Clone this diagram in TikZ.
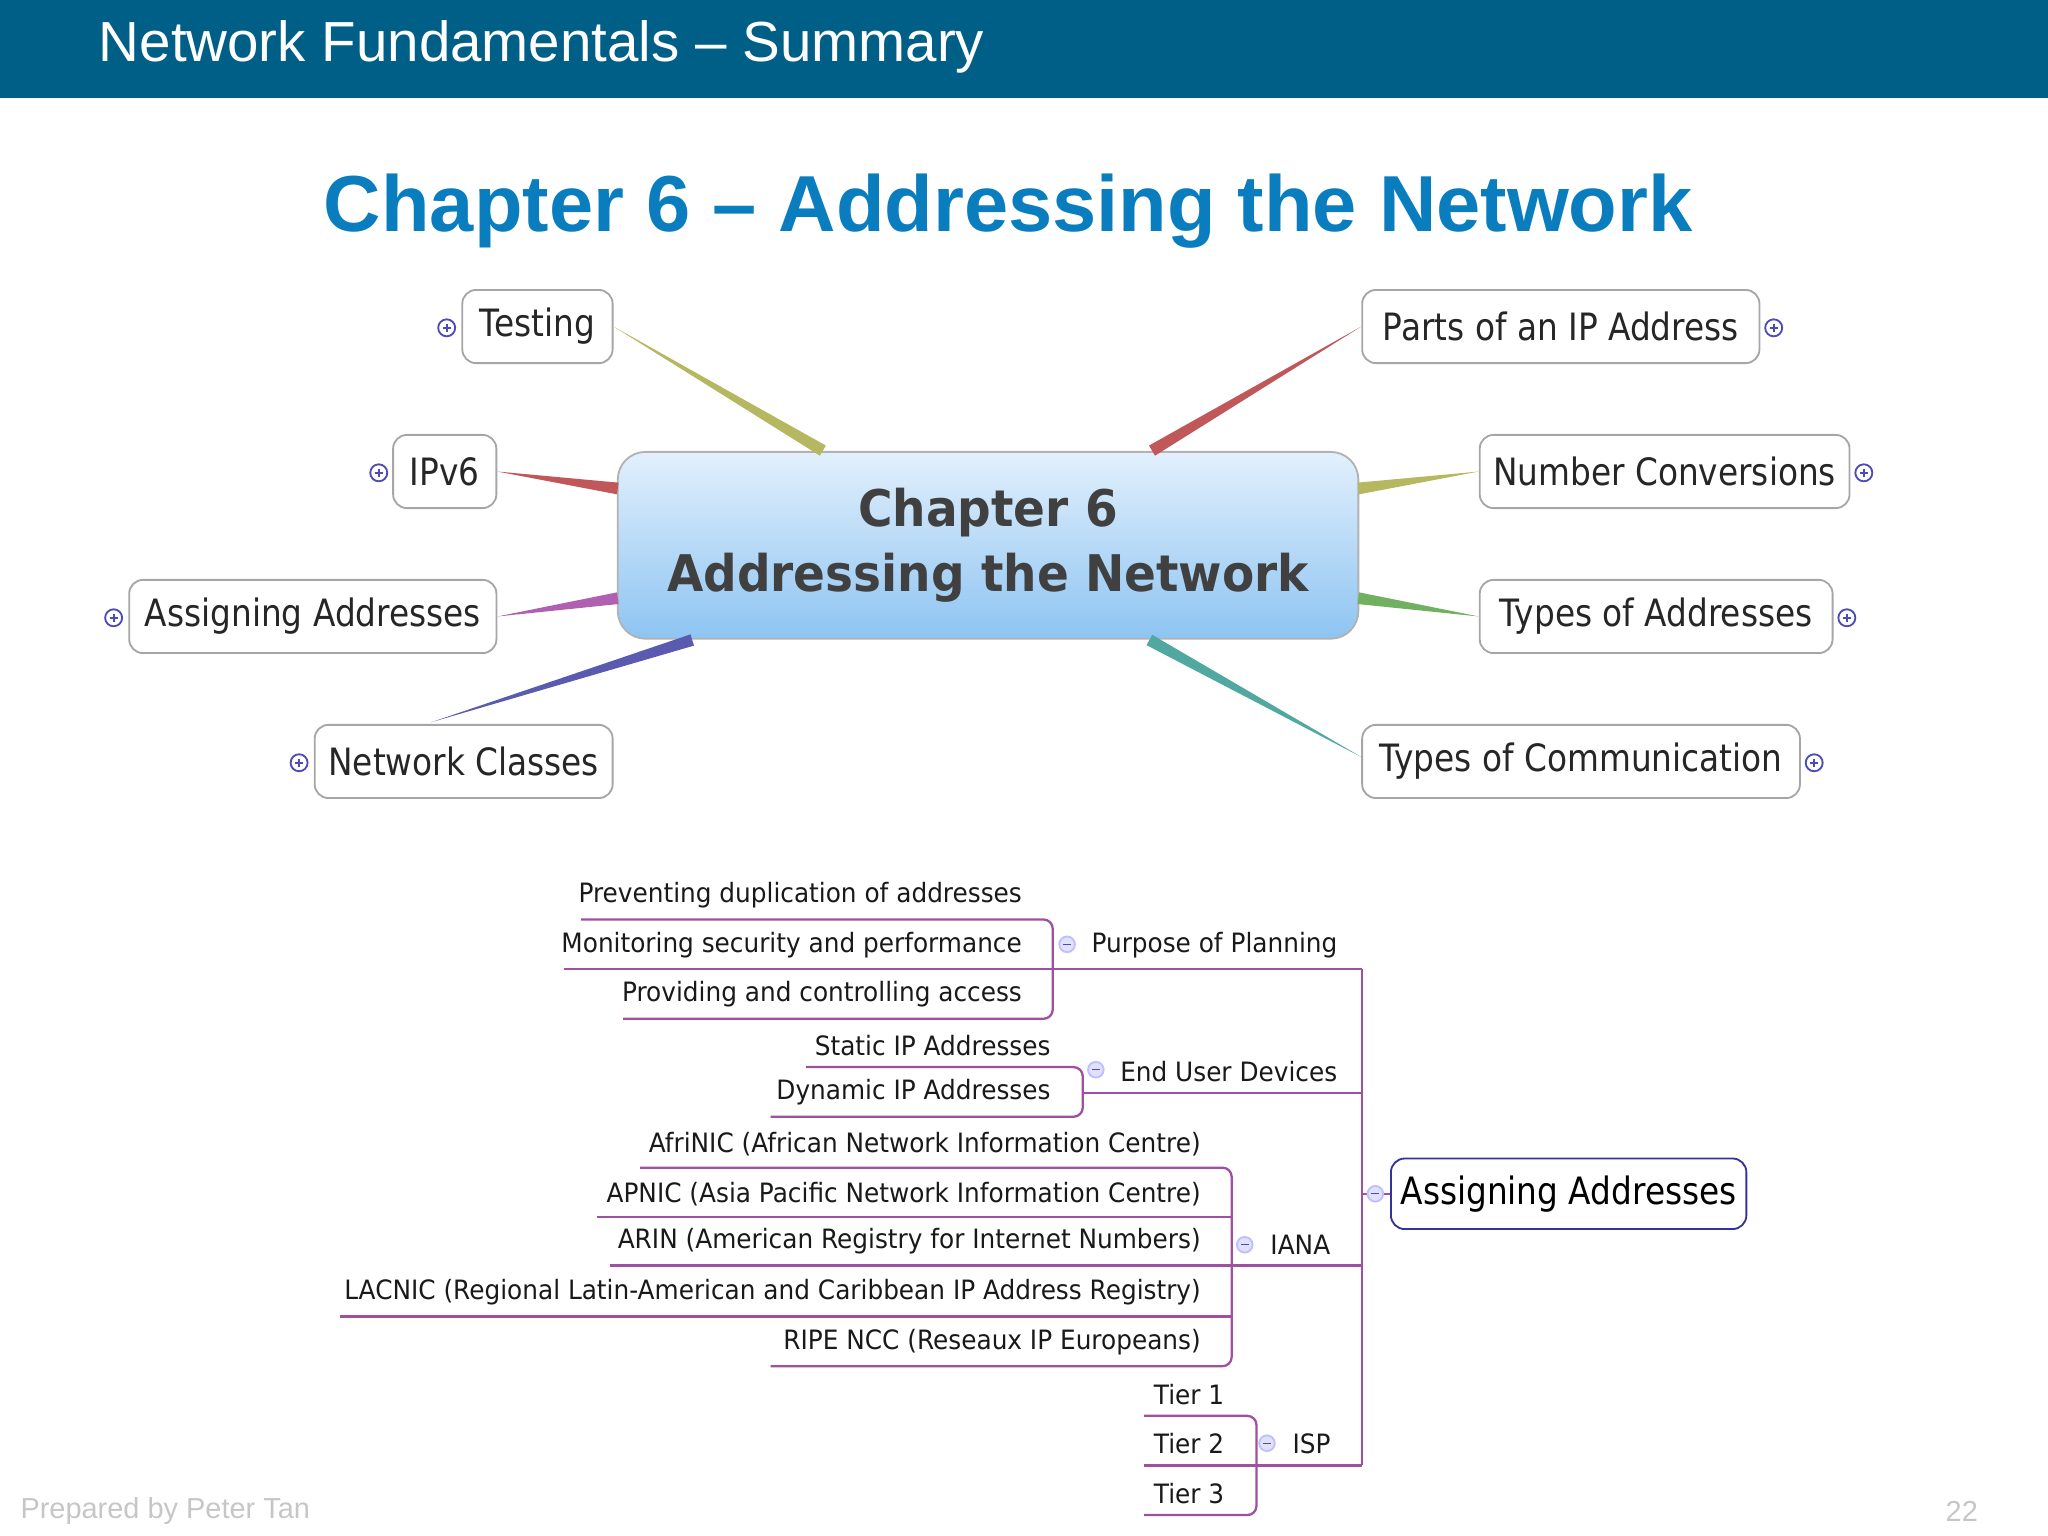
\documentclass[tikz,border=0pt]{standalone}
\usepackage{fontspec}
\setmainfont{Liberation Sans}
\newfontfamily\mmf{DejaVu Sans}[FakeStretch=0.87]
\newfontfamily\mms{DejaVu Sans}[FakeStretch=0.93]
\newfontfamily\mmb{DejaVu Sans Bold}[FakeStretch=0.93]
\usetikzlibrary{calc}
\definecolor{hdr}{HTML}{005F87}
\definecolor{ttl}{HTML}{0A7DBE}
\definecolor{ln}{HTML}{A050A0}
\definecolor{cOl}{HTML}{B5B860}
\definecolor{cRd}{HTML}{C0585A}
\definecolor{cPu}{HTML}{B060B0}
\definecolor{cGr}{HTML}{70B060}
\definecolor{cBl}{HTML}{5A5AB0}
\definecolor{cTe}{HTML}{50A8A0}
\definecolor{gtop}{HTML}{E2F0FC}
\definecolor{gbot}{HTML}{8EC4F2}
\tikzset{
 box/.style={draw=gray!70,rounded corners=3pt,fill=white,inner sep=0pt,font=\mmf\fontsize{8.2}{10}\selectfont,text=black!85},
 tl/.style={anchor=south east,inner sep=0pt,font=\mms\fontsize{5.8}{7}\selectfont,text=black!90},
 pl/.style={anchor=south west,inner sep=0pt,font=\mms\fontsize{5.8}{7}\selectfont,text=black!90},
 br/.style={ln,line width=0.5pt,rounded corners=2pt},
 mn/.style={circle,fill=blue!12,draw=blue!25,minimum size=0.12cm,inner sep=0pt},
 pls/.style={circle,fill=white,draw=blue!40!gray,minimum size=0.13cm,inner sep=0pt}
}
\newcommand{\taper}[3]{\fill[#3] ($(#2)!0.045cm!90:(#1)$) -- ($(#2)!0.045cm!-90:(#1)$) -- (#1) -- cycle;}
\newcommand{\plusat}[2]{\node[pls] (#1) at (#2) {}; \draw[blue!40!gray,line width=0.4pt] ($(#1)+(-3,0)$) -- ($(#1)+(3,0)$) ($(#1)+(0,-3)$) -- ($(#1)+(0,3)$);}
\newcommand{\minusat}[2]{\node[mn] (#1) at (#2) {}; \draw[blue!40!gray,line width=0.3pt] ($(#1)+(-3,0)$) -- ($(#1)+(3,0)$);}
\begin{document}
\begin{tikzpicture}[x=0.01cm,y=-0.01cm]
\useasboundingbox (0,0) rectangle (1568,1176);
\fill[hdr] (0,0) rectangle (1568,75);
\node[anchor=west,text=white,font=\fontsize{12.3}{14}\selectfont,inner sep=0] (hd) at (75,36) {Network Fundamentals – Summary};
\node[text=ttl,font=\bfseries\fontsize{17.3}{20}\selectfont,inner sep=0] (tt) at (772,162) {Chapter 6 – Addressing the Network};
% central
\node[draw=gray!60,rounded corners=6pt,top color=gtop,bottom color=gbot,minimum width=567*0.01cm,minimum height=143*0.01cm,align=center,font=\mmb\fontsize{11}{14}\selectfont,text=black!75] (c) at (756.5,417.5) {Chapter 6\\Addressing the Network};
% branches
\node[box,minimum width=1.15cm,minimum height=0.56cm] (te) at (411.5,250) {Testing};
\node[box,minimum width=3.04cm,minimum height=0.56cm] (pa) at (1195,250) {Parts of an IP Address};
\node[box,minimum width=0.79cm,minimum height=0.56cm] (ip) at (340.5,361) {IPv6};
\node[box,minimum width=2.83cm,minimum height=0.56cm] (nc) at (1274.5,361) {Number Conversions};
\node[box,minimum width=2.81cm,minimum height=0.56cm] (aa) at (239.5,472) {Assigning Addresses};
\node[box,minimum width=2.70cm,minimum height=0.56cm] (ta) at (1268,472) {Types of Addresses};
\node[box,minimum width=2.28cm,minimum height=0.56cm] (nw) at (355,583) {Network Classes};
\node[box,minimum width=3.35cm,minimum height=0.56cm] (tc) at (1210.5,583) {Types of Communication};
\plusat{p1}{342,251} \plusat{p2}{1358,251} \plusat{p3}{290,362} \plusat{p4}{1427,362}
\plusat{p5}{87,473} \plusat{p6}{1414,473} \plusat{p7}{229,584} \plusat{p8}{1389,584}
\coordinate (cte) at (630,345); \coordinate (cpa) at (882,345);
\coordinate (cip) at (473,374); \coordinate (cnc) at (1040,374);
\coordinate (caa) at (473,458); \coordinate (cta) at (1040,458);
\coordinate (cnw) at (530,490); \coordinate (ctc) at (880,490);
\taper{te.east}{cte}{cOl} \taper{pa.west}{cpa}{cRd}
\taper{ip.east}{cip}{cRd} \taper{nc.west}{cnc}{cOl}
\taper{aa.east}{caa}{cPu} \taper{ta.west}{cta}{cGr}
\coordinate (nwt) at (330,553); \taper{nwt}{cnw}{cBl}
\coordinate (tcl) at (1043,580); \taper{tcl}{ctc}{cTe}
% bottom tree
\node[draw=blue!50!black!80,rounded corners=3pt,inner sep=0,minimum width=2.72cm,minimum height=0.54cm,font=\mmf\fontsize{8.2}{10}\selectfont] (A) at (1201,914) {Assigning Addresses};
\draw[br] (1043,742) -- (1043,1122);
\draw[ln,line width=0.5pt] (1043,914) -- (A.west);
\minusat{mA}{1053,914}
% purpose
\draw[br] (432,742) -- (1043,742);
\draw[br] (445,704) -- (806,704) -- (806,780) -- (477,780);
\node[tl] (t1) at (783,696) {Preventing duplication of addresses};
\node[tl] (t2) at (783,734) {Monitoring security and performance};
\node[tl] (t3) at (783,772) {Providing and controlling access};
\node[pl] (pp) at (835,734) {Purpose of Planning};
\minusat{m1}{817,723}
% end user
\draw[br] (829,837) -- (1043,837);
\draw[br] (617,817) -- (829,817) -- (829,855) -- (590,855);
\node[tl] (e1) at (805,809) {Static IP Addresses};
\node[tl] (e2) at (805,847) {Dynamic IP Addresses};
\node[pl] (eu) at (857,829) {End User Devices};
\minusat{m2}{839,819}
% IANA
\draw[br] (943,969) -- (1043,969);
\draw[br] (490,894) -- (943,894) -- (943,1046) -- (590,1046);
\draw[br] (457,932) -- (943,932);
\draw[br] (467,969) -- (943,969);
\draw[br] (260,1008) -- (943,1008);
\node[tl] (i1) at (920,886) {AfriNIC (African Network Information Centre)};
\node[tl] (i2) at (920,924) {APNIC (Asia Pacific Network Information Centre)};
\node[tl] (i3) at (920,961) {ARIN (American Registry for Internet Numbers)};
\node[tl] (i4) at (920,1000) {LACNIC (Regional Latin-American and Caribbean IP Address Registry)};
\node[tl] (i5) at (920,1038) {RIPE NCC (Reseaux IP Europeans)};
\node[pl] (ia) at (972,961) {IANA};
\minusat{m3}{953,953}
% ISP
\draw[br] (876,1122) -- (1043,1122);
\draw[br] (876,1084) -- (962,1084) -- (962,1160) -- (876,1160);
\node[tl] (s1) at (938,1076) {Tier 1};
\node[tl] (s2) at (938,1114) {Tier 2};
\node[tl] (s3) at (938,1152) {Tier 3};
\node[pl] (is) at (989,1114) {ISP};
\minusat{m4}{970,1105}
% footer
\node[anchor=west,text=gray!45,font=\fontsize{6.3}{8}\selectfont,inner sep=0] (ft) at (15,1157) {Prepared by Peter Tan};
\node[anchor=east,text=gray!45,font=\fontsize{6.3}{8}\selectfont,inner sep=0] (pg) at (1515,1157) {22};
\end{tikzpicture}
\end{document}
